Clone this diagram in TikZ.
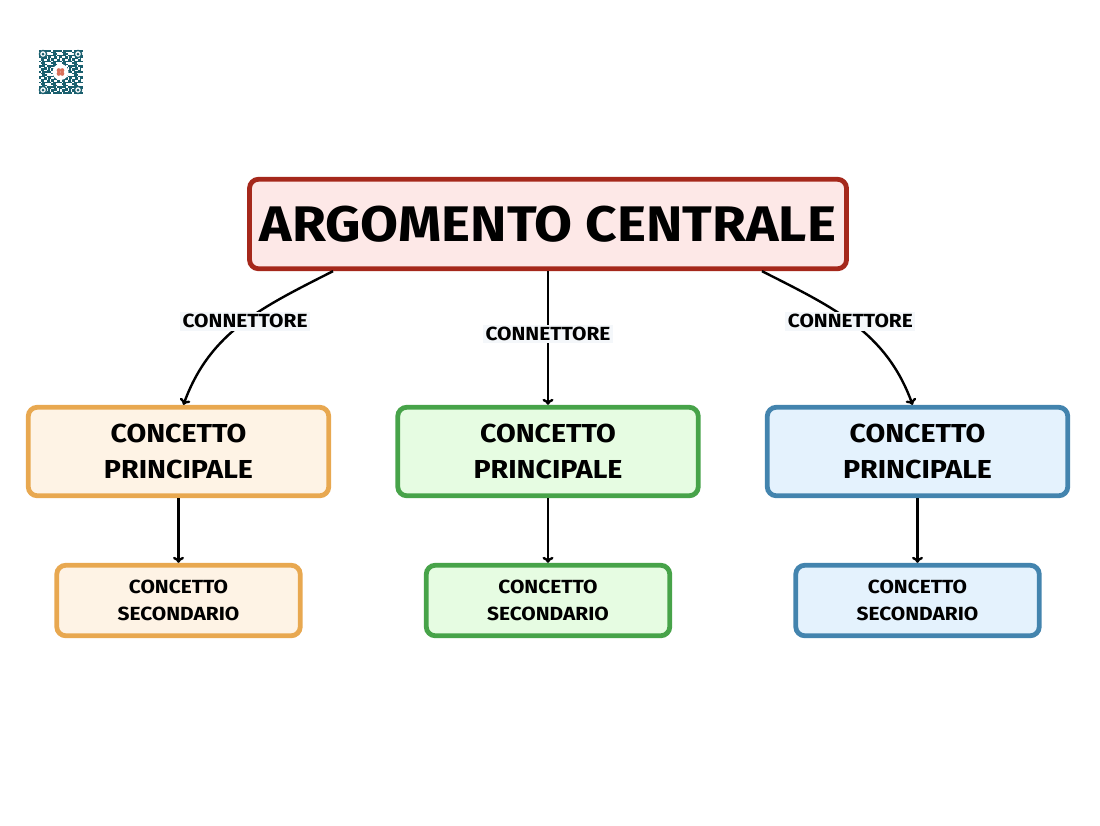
\documentclass[tikz,border=0pt]{standalone}
\usepackage{fontspec}
\setmainfont{Fira Sans}[FakeStretch=1.1]
\usetikzlibrary{arrows.meta}
\definecolor{redline}{HTML}{A5281B}
\definecolor{redfill}{HTML}{FDE8E7}
\definecolor{orangeline}{HTML}{E8A850}
\definecolor{orangefill}{HTML}{FEF3E5}
\definecolor{greenline}{HTML}{47A349}
\definecolor{greenfill}{HTML}{E6FCE2}
\definecolor{blueline}{HTML}{4384AE}
\definecolor{bluefill}{HTML}{E4F2FD}
\definecolor{labfill}{HTML}{F4F7FA}
\definecolor{qrcol}{HTML}{1A5F6E}
\definecolor{qrred}{HTML}{D9705A}
\tikzset{
	box/.style={draw,rounded corners=9pt,align=center,inner sep=0pt,text=black,line width=4.8pt},
	mainbox/.style={box,minimum width=300.5pt,minimum height=88.5pt,font=\fontsize{26}{36}\selectfont\bfseries},
	subbox/.style={box,minimum width=243.5pt,minimum height=70.5pt,font=\fontsize{19}{27}\selectfont\bfseries},
	lab/.style={fill=labfill,inner sep=2.5pt,text=black,font=\fontsize{19}{22}\selectfont\bfseries},
	conn/.style={line width=2.4pt,-{To[length=6pt,width=11pt]}},
	finder/.style={draw=qrcol,line width=1.3pt,fill=white}
}
\begin{document}
\begin{tikzpicture}[x=1pt,y=-1pt]
	\useasboundingbox (0,0) rectangle (1100,825);

	% qr code
	\foreach \i in {0,...,28} {
		\foreach \j in {0,...,28} {
			\pgfmathparse{int(mod(\i*\i*3+\j*\j*5+\i*\j+\i,7)<4)}
			\ifnum\pgfmathresult=1
				\fill [qrcol] (39+\i*1.5,50+\j*1.5) rectangle +(1.5,1.5);
			\fi
		}
	}
	\foreach \x/\y in {43/54,78/54,43/90,78/90} {
		\draw [finder] (\x,\y) circle [radius=3.6];
		\fill [qrcol] (\x,\y) circle [radius=1.5];
	}
	\fill [white] (60.5,72) circle [radius=8];
	\foreach \x/\y in {58.8/70.3,62.2/70.3,58.8/73.7,62.2/73.7} {
		\fill [qrred] (\x,\y) circle [radius=2.1];
	}

	\node [box,draw=redline,fill=redfill,minimum width=597pt,minimum height=89.5pt,
		font=\fontsize{50}{60}\selectfont\bfseries] (centrale) at (548,224) {ARGOMENTO CENTRALE};

	\node [mainbox,draw=orangeline,fill=orangefill] (princ_a) at (178.5,451.5) {CONCETTO\\PRINCIPALE};
	\node [mainbox,draw=greenline,fill=greenfill] (princ_b) at (548,451.5) {CONCETTO\\PRINCIPALE};
	\node [mainbox,draw=blueline,fill=bluefill] (princ_c) at (917.5,451.5) {CONCETTO\\PRINCIPALE};

	\node [subbox,draw=orangeline,fill=orangefill] (sec_a) at (178.5,600.5) {CONCETTO\\SECONDARIO};
	\node [subbox,draw=greenline,fill=greenfill] (sec_b) at (548,600.5) {CONCETTO\\SECONDARIO};
	\node [subbox,draw=blueline,fill=bluefill] (sec_c) at (917.5,600.5) {CONCETTO\\SECONDARIO};

	\draw [conn] ([xshift=-215pt]centrale.south) to [out=207,in=70] node [lab,pos=0.48] (lab_a) {CONNETTORE} (princ_a.84);
	\draw [conn] (centrale) -- (princ_b) node [pos=0.47,lab] (lab_b) {CONNETTORE};
	\draw [conn] ([xshift=214pt]centrale.south) to [out=-27,in=110] node [lab,pos=0.48] (lab_c) {CONNETTORE} (princ_c.96);

	\draw [conn] (princ_a) -- (sec_a);
	\draw [conn] (princ_b) -- (sec_b);
	\draw [conn] (princ_c) -- (sec_c);
\end{tikzpicture}
\end{document}
